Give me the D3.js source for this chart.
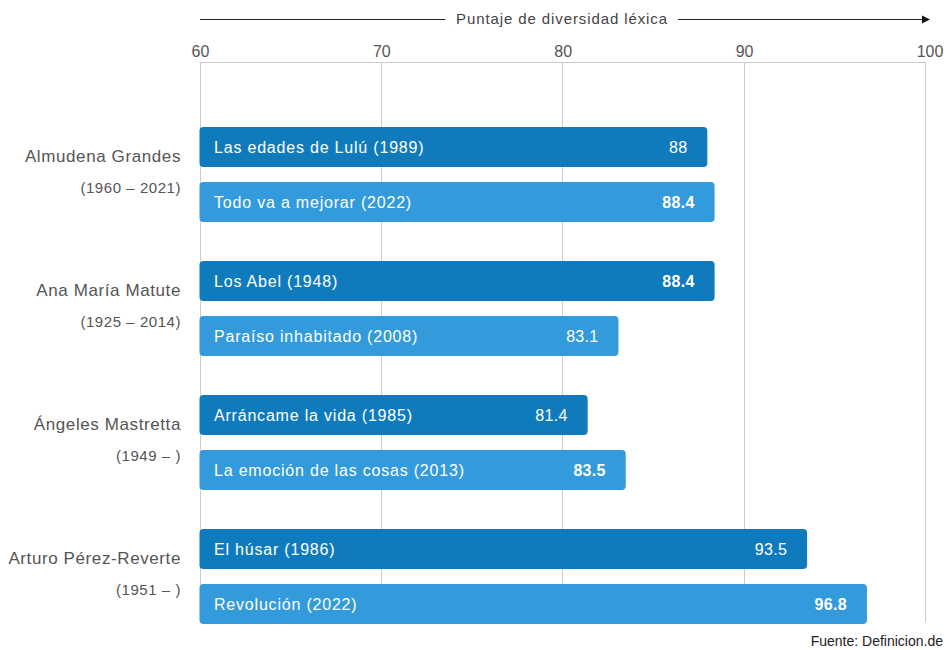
<!DOCTYPE html>
<html>
<head>
<meta charset="utf-8">
<script src="https://cdn.jsdelivr.net/npm/d3@7"></script>
<style>
  body { margin: 0; background: #fff; }
  text { font-family: "Liberation Sans", Arial, sans-serif; }
</style>
</head>
<body>
<div id="chart"></div>
<script>
const width = 949;
const height = 650;

// Data
const authors = ['Almudena Grandes', 'Ana María Matute', 'Ángeles Mastretta', 'Arturo Pérez-Reverte'];
const lifespans = ['(1960 – 2021)', '(1925 – 2014)', '(1949 – )', '(1951 – )'];
const books = [
    ['Las edades de Lulú (1989)', 'Todo va a mejorar (2022)'],
    ['Los Abel (1948)', 'Paraíso inhabitado (2008)'],
    ['Arráncame la vida (1985)', 'La emoción de las cosas (2013)'],
    ['El húsar (1986)', 'Revolución (2022)']
];
const scores = [
    [88, 88.4],
    [88.4, 83.1],
    [81.4, 83.5],
    [93.5, 96.8]
];
const ticks = [60, 70, 80, 90, 100];

const colors = ['#0f7bbd', '#339bdb'];

const rows = [];
authors.forEach((a, i) => {
    books[i].forEach((b, j) => {
        const vals = scores[i];
        rows.push({ author: a, book: b, value: vals[j], slot: j, best: vals[j] === d3.max(vals) });
    });
});

const svg = d3.select('#chart')
    .append('svg')
    .attr('width', width)
    .attr('height', height);

const x = d3.scaleLinear().domain([60, 100]).range([199.5, 925]);
const yGroup = d3.scaleBand().domain(authors).range([127, 127 + 134 * authors.length]);
const yBar = d3.scaleBand().domain([0, 1]).range([0, 95]).paddingInner(15 / 55);

// Axis title with arrow
svg.append('defs').append('marker')
    .attr('id', 'arrow')
    .attr('viewBox', '0 -5 10 10')
    .attr('refX', 0)
    .attr('refY', 0)
    .attr('markerWidth', 8)
    .attr('markerHeight', 10)
    .attr('markerUnits', 'userSpaceOnUse')
    .attr('orient', 'auto')
    .append('path')
    .attr('d', 'M0,-5L10,0L0,5Z')
    .attr('fill', '#111');

svg.append('line')
    .attr('x1', 200).attr('x2', 445)
    .attr('y1', 19.5).attr('y2', 19.5)
    .attr('stroke', '#222').attr('stroke-width', 1);
svg.append('line')
    .attr('x1', 678).attr('x2', 922)
    .attr('y1', 19.5).attr('y2', 19.5)
    .attr('stroke', '#222').attr('stroke-width', 1)
    .attr('marker-end', 'url(#arrow)');
svg.append('text')
    .attr('x', 562)
    .attr('y', 24)
    .attr('text-anchor', 'middle')
    .attr('font-size', 15)
    .attr('letter-spacing', 0.9)
    .attr('fill', '#444')
    .text('Puntaje de diversidad léxica');

// Grid
const gridTop = 62;
const gridBottom = 622;
svg.append('line')
    .attr('x1', x(60)).attr('x2', x(100))
    .attr('y1', gridTop + 0.5).attr('y2', gridTop + 0.5)
    .attr('stroke', '#ccc');
svg.selectAll('.grid')
    .data(ticks)
    .enter().append('line')
    .attr('class', 'grid')
    .attr('x1', d => Math.round(x(d)) + 0.5)
    .attr('x2', d => Math.round(x(d)) + 0.5)
    .attr('y1', gridTop)
    .attr('y2', gridBottom)
    .attr('stroke', '#ccc');

svg.selectAll('.tick-label')
    .data(ticks)
    .enter().append('text')
    .attr('class', 'tick-label')
    .attr('x', (d, i) => x(d) + (i === ticks.length - 1 ? 5 : 1))
    .attr('y', 57)
    .attr('text-anchor', 'middle')
    .attr('font-size', 16)
    .attr('fill', '#555')
    .text(d => d);

// Author labels
svg.selectAll('.author')
    .data(authors)
    .enter().append('text')
    .attr('class', 'author')
    .attr('x', 181)
    .attr('y', d => yGroup(d) + 35)
    .attr('text-anchor', 'end')
    .attr('font-size', 17)
    .attr('letter-spacing', 0.6)
    .attr('fill', '#555')
    .text(d => d);

svg.selectAll('.life')
    .data(lifespans)
    .enter().append('text')
    .attr('class', 'life')
    .attr('x', 181)
    .attr('y', (d, i) => yGroup(authors[i]) + 66)
    .attr('text-anchor', 'end')
    .attr('font-size', 15)
    .attr('letter-spacing', 0.55)
    .attr('fill', '#555')
    .text(d => d);

// Bars
const bar = svg.selectAll('.bar')
    .data(rows)
    .enter().append('g')
    .attr('class', 'bar')
    .attr('transform', d => `translate(0,${yGroup(d.author) + yBar(d.slot)})`);

bar.append('rect')
    .attr('x', x(60))
    .attr('y', 0)
    .attr('width', d => x(d.value) - x(60))
    .attr('height', yBar.bandwidth())
    .attr('rx', 4)
    .attr('fill', d => colors[d.slot]);

bar.append('text')
    .attr('x', x(60) + 14.5)
    .attr('y', yBar.bandwidth() / 2 + 6)
    .attr('font-size', 16)
    .attr('letter-spacing', 0.8)
    .attr('fill', '#fff')
    .text(d => d.book);

bar.append('text')
    .attr('x', d => x(d.value) - 20)
    .attr('y', yBar.bandwidth() / 2 + 6)
    .attr('text-anchor', 'end')
    .attr('font-size', 16)
    .attr('letter-spacing', 0.3)
    .attr('font-weight', d => d.best ? 'bold' : 'normal')
    .attr('fill', '#fff')
    .text(d => d.value);

// Source
svg.append('text')
    .attr('x', 943)
    .attr('y', 646)
    .attr('text-anchor', 'end')
    .attr('font-family', '"DejaVu Sans", sans-serif')
    .attr('font-size', 14)
    .attr('fill', '#222')
    .text('Fuente: Definicion.de');
</script>
</body>
</html>
